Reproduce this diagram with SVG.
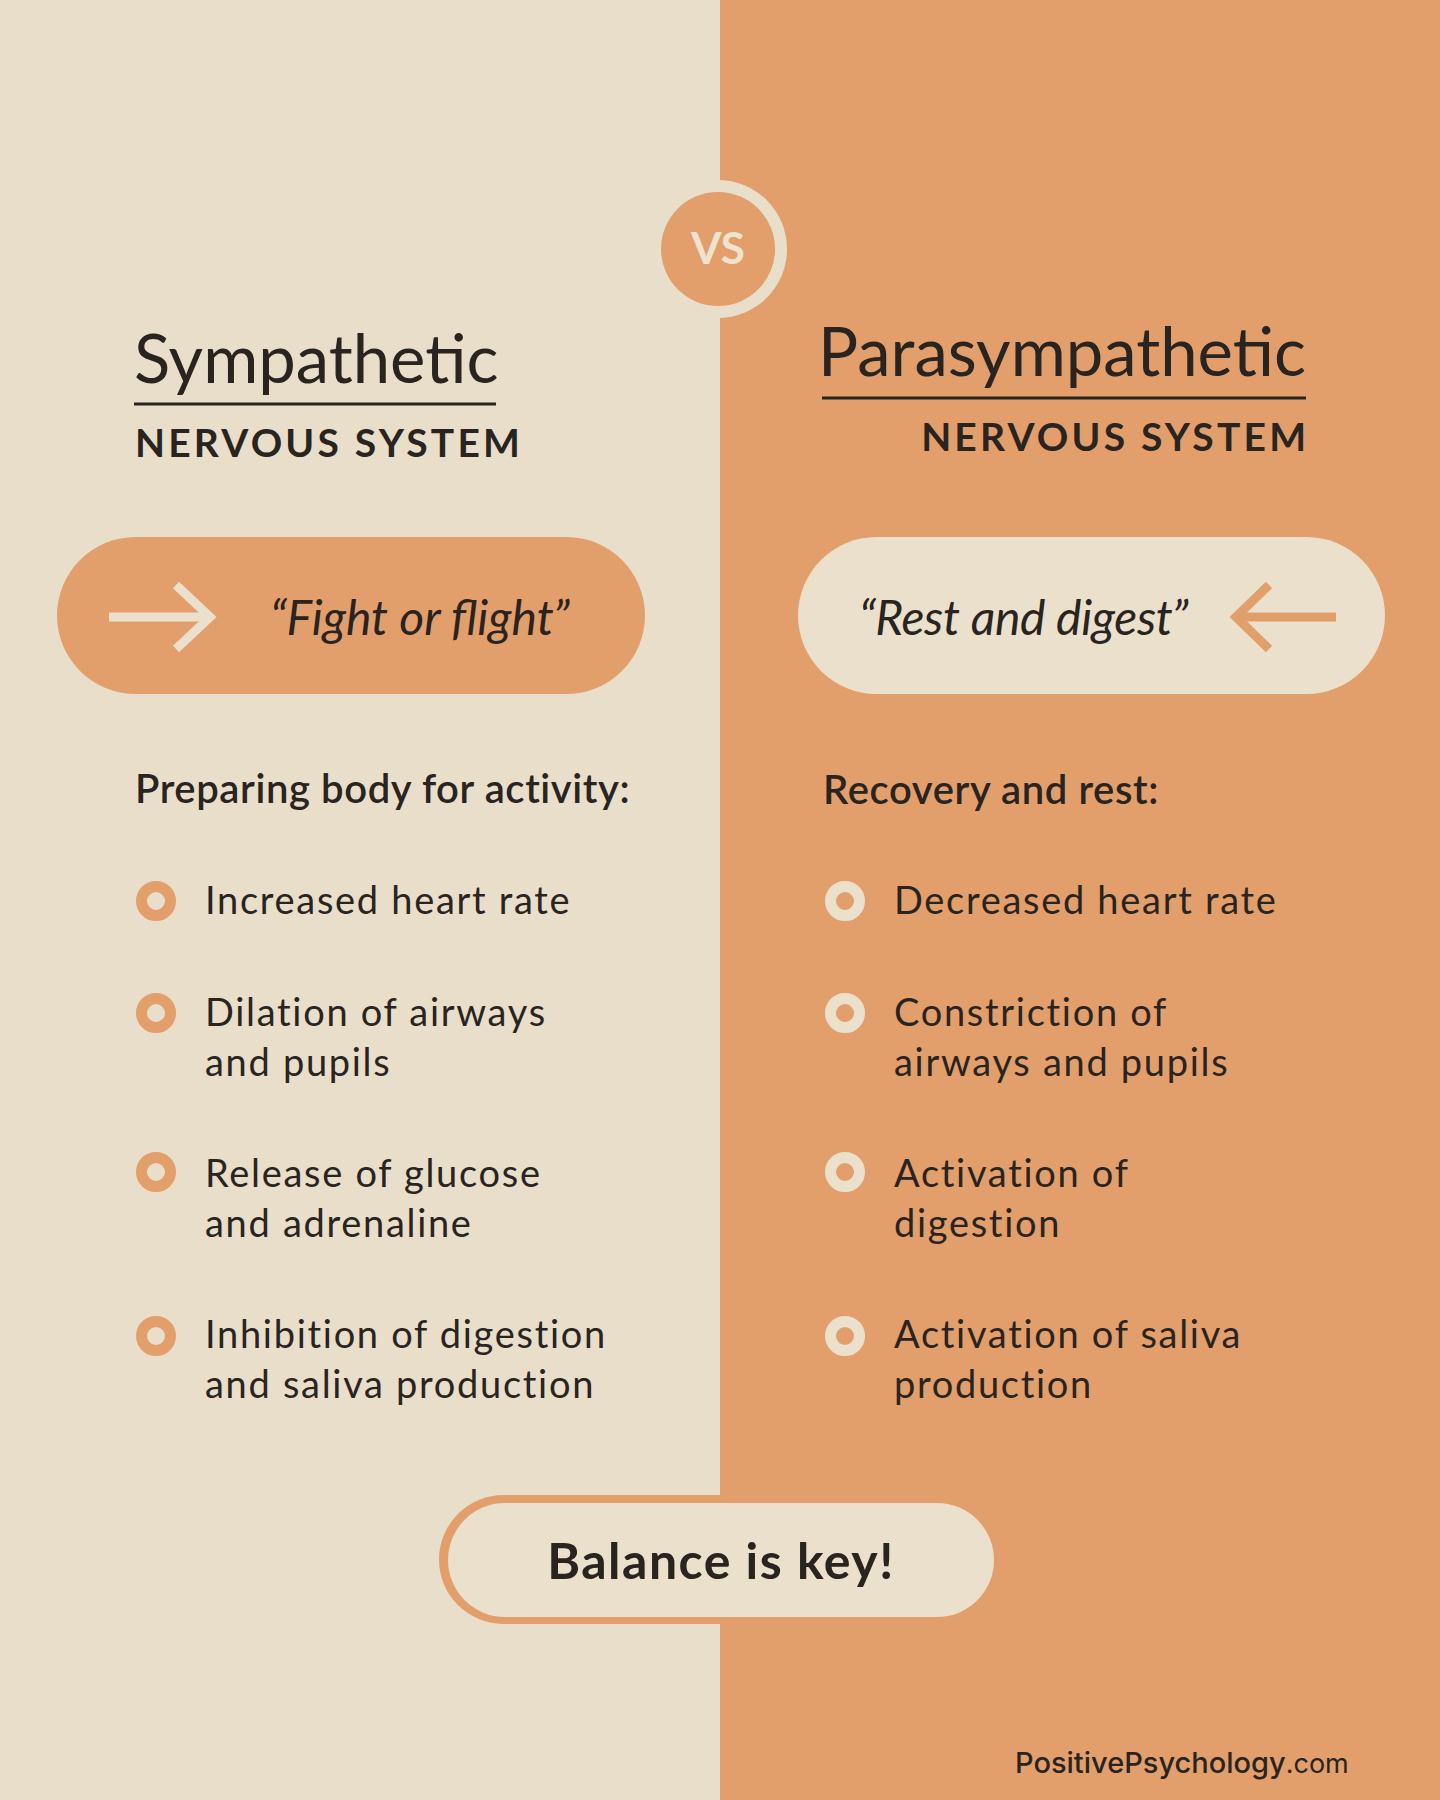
<svg xmlns="http://www.w3.org/2000/svg" width="1440" height="1800" viewBox="0 0 1440 1800">
<defs>
<style>
.lato{font-family:Lato,"Open Sans","Liberation Sans",sans-serif;fill:#29241F}
.title{font-size:67px;font-weight:400}
.sub{font-size:39px;font-weight:700;letter-spacing:3.2px}
.quote{font-size:48px;font-style:italic;font-weight:400}
.lead{font-size:40px;font-weight:600;letter-spacing:0.6px}
.item{font-size:38px;font-weight:400;letter-spacing:1.7px}
.bl{fill:none;stroke:#E29F6B;stroke-width:11}
.br{fill:none;stroke:#EAE0CC;stroke-width:11}
.rule{stroke:#29241F;stroke-width:3}
</style>
</defs>
<rect x="0" y="0" width="720" height="1800" fill="#E8DECA"/>
<rect x="720" y="0" width="720" height="1800" fill="#E29F6B"/>

<g id="vs">
<circle cx="718" cy="249" r="69" fill="#E8DECA"/>
<circle cx="718" cy="249" r="57" fill="#E29F6B"/>
<text x="718" y="264" text-anchor="middle" font-family="Lato,'Open Sans',sans-serif" font-weight="700" font-size="44" fill="#EDE3D0">VS</text>
</g>

<g id="sympathetic-heading">
<text class="lato title" x="134" y="383">Sympathetic</text>
<line class="rule" x1="134" y1="404" x2="496" y2="404"/>
<text class="lato sub" x="135" y="457">NERVOUS SYSTEM</text>
</g>

<g id="parasympathetic-heading">
<text class="lato title" x="1306" y="376" text-anchor="end">Parasympathetic</text>
<line class="rule" x1="822" y1="398" x2="1306" y2="398"/>
<text class="lato sub" x="1306" y="451" text-anchor="end" style="letter-spacing:3.2px">NERVOUS SYSTE<tspan style="letter-spacing:0">M</tspan></text>
</g>

<g id="fight-pill">
<rect x="57" y="537" width="588" height="157" rx="78.5" fill="#E29F6B"/>
<line x1="109" y1="617" x2="208" y2="617" stroke="#EAE0CC" stroke-width="9"/>
<polyline points="176,585 210,617 176,649" fill="none" stroke="#EAE0CC" stroke-width="9"/>
<text class="lato quote" x="270" y="635">“Fight or flight”</text>
</g>

<g id="rest-pill">
<rect x="798" y="537" width="587" height="157" rx="78.5" fill="#EAE0CC"/>
<line x1="1238" y1="617" x2="1336" y2="617" stroke="#E29F6B" stroke-width="9"/>
<polyline points="1269,585 1236,617 1269,649" fill="none" stroke="#E29F6B" stroke-width="9"/>
<text class="lato quote" x="859" y="635" letter-spacing="-0.3">“Rest and digest”</text>
</g>

<g id="sympathetic-list">
<text class="lato lead" x="135" y="803">Preparing body for activity:</text>
<circle class="bl" cx="156" cy="901" r="14.5"/>
<text class="lato item" x="205" y="914">Increased heart rate</text>
<circle class="bl" cx="156" cy="1013" r="14.5"/>
<text class="lato item" x="205" y="1026">Dilation of airways</text>
<text class="lato item" x="205" y="1076">and pupils</text>
<circle class="bl" cx="156" cy="1172" r="14.5"/>
<text class="lato item" x="205" y="1187">Release of glucose</text>
<text class="lato item" x="205" y="1237">and adrenaline</text>
<circle class="bl" cx="156" cy="1336" r="14.5"/>
<text class="lato item" x="205" y="1348">Inhibition of digestion</text>
<text class="lato item" x="205" y="1398">and saliva production</text>
</g>

<g id="parasympathetic-list">
<text class="lato lead" x="823" y="804">Recovery and rest:</text>
<circle class="br" cx="845" cy="901" r="14.5"/>
<text class="lato item" x="894" y="914">Decreased heart rate</text>
<circle class="br" cx="845" cy="1013" r="14.5"/>
<text class="lato item" x="894" y="1026">Constriction of</text>
<text class="lato item" x="894" y="1076">airways and pupils</text>
<circle class="br" cx="845" cy="1172" r="14.5"/>
<text class="lato item" x="894" y="1187">Activation of</text>
<text class="lato item" x="894" y="1237">digestion</text>
<circle class="br" cx="845" cy="1336" r="14.5"/>
<text class="lato item" x="894" y="1348">Activation of saliva</text>
<text class="lato item" x="894" y="1398">production</text>
</g>

<g id="balance">
<rect x="439" y="1495" width="564" height="129" rx="64.5" fill="#E29F6B"/>
<rect x="448" y="1503" width="546" height="114" rx="57" fill="#EAE0CC"/>
<text class="lato" x="721" y="1579" text-anchor="middle" font-size="50" font-weight="700" letter-spacing="1.5">Balance is key!</text>
</g>

<g id="footer">
<text x="1015" y="1773" font-family="Inter,'Open Sans',sans-serif" font-size="29" font-weight="500" fill="#29241F">PositivePsychology<tspan font-size="27" font-weight="400">.com</tspan></text>
</g>
</svg>
